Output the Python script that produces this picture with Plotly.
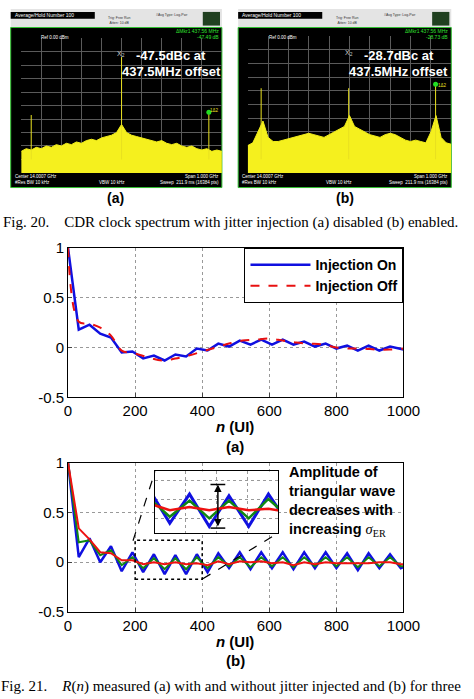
import plotly.graph_objects as go

W, H = 474, 699

def px(x):
    return x / W

def py(y):
    return 1 - y / H

# ---- spectrum data (dB, x in % of span) ----
spec_x = [i * 2.5 for i in range(41)]
left_env = [-84, -82, -83, -81, -82, -80, -81, -79, -80, -78, -79, -77, -78, -76, -75, -76, -74, -73, -72, -70,
            -64, -70, -72, -73, -74, -75, -76, -77, -76, -78, -79, -78, -80, -81, -80, -82, -83, -82, -84, -83, -84]
right_env = [-80, -78, -70, -62, -74, -77, -77, -76, -75, -74, -73, -72, -71, -72, -73, -74, -72, -70, -68, -66,
             -58, -66, -68, -70, -72, -73, -74, -72, -71, -72, -74, -76, -77, -76, -77, -78, -70, -58, -74, -78, -79]
left_spike_x = [5, 50, 93.5]
left_spike_top = [-57, -14, -55]
right_spike_x = [6.6, 49.6, 92.3]
right_spike_top = [-38, -38, -35]

# ---- R(n) data ----
n_a = [0, 32, 64, 96, 128, 160, 192, 224, 256, 288, 320, 352, 384, 416, 448, 480, 512, 544, 576, 608,
       640, 672, 704, 736, 768, 800, 832, 864, 896, 928, 960, 992, 1000]
on_a = [1, 0.18, 0.23, 0.14, 0.1, -0.05, -0.04, -0.11, -0.08, -0.13, -0.07, -0.09, -0.01, -0.03, 0.04, 0.01,
        0.07, 0.03, 0.08, 0.03, 0.08, 0.03, 0.06, 0.01, 0.04, -0.01, 0.02, -0.03, 0.02, -0.03, 0.01, -0.02, -0.02]
n_off = [0, 32, 64, 96, 128, 160, 200, 240, 280, 320, 360, 400, 440, 480, 520, 560, 600, 640, 680, 720,
         760, 800, 840, 880, 920, 960, 1000]
off_a = [1, 0.26, 0.24, 0.2, 0.12, -0.03, -0.06, -0.1, -0.13, -0.11, -0.08, -0.04, 0.0, 0.04, 0.07, 0.08,
         0.09, 0.07, 0.05, 0.04, 0.03, 0.0, -0.01, -0.01, -0.02, -0.02, -0.01]

blue_b = [1, 0.05, 0.24, 0.0, 0.16, -0.09, 0.1, -0.1, 0.08, -0.12, 0.07, -0.12, 0.08, -0.1, 0.09, -0.06,
          0.1, -0.07, 0.1, -0.06, 0.1, -0.07, 0.1, -0.06, 0.1, -0.06, 0.09, -0.08, 0.09, -0.06, 0.08, -0.06, -0.05]
green_b = [1, 0.2, 0.22, 0.07, 0.12, -0.03, 0.05, -0.06, 0.04, -0.07, 0.04, -0.07, 0.05, -0.06, 0.05, -0.04,
           0.05, -0.05, 0.05, -0.04, 0.05, -0.05, 0.05, -0.04, 0.05, -0.04, 0.05, -0.05, 0.05, -0.04, 0.05, -0.04, -0.04]
red_b = [1, 0.34, 0.23, 0.1, 0.09, 0.02, 0.02, -0.02, 0.0, -0.02, 0.0, -0.02, -0.01, -0.03, 0.01, -0.02,
         0.01, 0.0, 0.01, -0.01, 0.0, -0.03, 0.0, -0.02, 0.0, -0.01, -0.01, -0.01, -0.01, 0.0, 0.0, -0.02, -0.02]

fig = go.Figure()

# spectra
for k, (env, sx, st) in enumerate([(left_env, left_spike_x, left_spike_top),
                                   (right_env, right_spike_x, right_spike_top)]):
    xa, ya = ('x', 'y') if k == 0 else ('x2', 'y2')
    fig.add_trace(go.Scatter(x=spec_x, y=[v + 100 for v in env], mode='lines', fill='tozeroy',
                             line=dict(color='#f2ee1a', width=1), fillcolor='#f5f01e',
                             xaxis=xa, yaxis=ya, showlegend=False, hoverinfo='skip'))
    lx, ly = [], []
    for a, t in zip(sx, st):
        lx += [a, a, None]
        ly += [10, t + 100, None]
    fig.add_trace(go.Scatter(x=lx, y=ly, mode='lines', line=dict(color='#e8e020', width=1),
                             xaxis=xa, yaxis=ya, showlegend=False, hoverinfo='skip'))
    fig.add_trace(go.Scatter(x=[sx[2]], y=[st[2] + 100], mode='markers',
                             marker=dict(color='#22dd22', size=5), xaxis=xa, yaxis=ya,
                             showlegend=False, hoverinfo='skip'))

# plot (a)
fig.add_trace(go.Scatter(x=n_a, y=on_a, mode='lines', name='<b>Injection On</b>',
                         line=dict(color='#1010e0', width=2.5), xaxis='x3', yaxis='y3'))
fig.add_trace(go.Scatter(x=n_off, y=off_a, mode='lines', name='<b>Injection Off</b>', line_shape='spline',
                         line=dict(color='#e81010', width=2, dash='dash'), xaxis='x3', yaxis='y3'))

# plot (b) and inset
for xa, ya, wb in [('x4', 'y4', 2.5), ('x5', 'y5', 3)]:
    fig.add_trace(go.Scatter(x=n_a, y=blue_b, mode='lines', line=dict(color='#1010e0', width=wb),
                             xaxis=xa, yaxis=ya, showlegend=False))
    fig.add_trace(go.Scatter(x=n_a, y=green_b, mode='lines', line=dict(color='#118811', width=wb - 0.5),
                             xaxis=xa, yaxis=ya, showlegend=False))
    fig.add_trace(go.Scatter(x=n_a, y=red_b, mode='lines', line=dict(color='#ee1111', width=wb - 0.5),
                             xaxis=xa, yaxis=ya, showlegend=False))

grid_spec = dict(showgrid=True, gridcolor='#5a5a5a', gridwidth=1, zeroline=False,
                 showticklabels=False, ticks='', fixedrange=True)
tick_font = dict(family='Liberation Sans, Arial', size=15, color='black')
data_ax = dict(showline=True, linecolor='black', linewidth=1, mirror=True, ticks='inside', ticklen=4,
               showgrid=True, gridcolor='#999', griddash='dot', zeroline=False, tickfont=tick_font)

fig.update_layout(
    width=W, height=H, margin=dict(l=0, r=0, t=0, b=0),
    paper_bgcolor='white', plot_bgcolor='white',
    font=dict(family='Liberation Sans, Arial', color='black'),
    xaxis=dict(domain=[px(18), px(228)], range=[0, 100], dtick=10, anchor='y', **grid_spec),
    yaxis=dict(domain=[py(168), py(30)], range=[0, 100], dtick=10, anchor='x', **grid_spec),
    xaxis2=dict(domain=[px(255), px(468)], range=[0, 100], dtick=10, anchor='y2', **grid_spec),
    yaxis2=dict(domain=[py(168), py(28)], range=[0, 100], dtick=10, anchor='x2', **grid_spec),
    xaxis3=dict(domain=[px(67), px(418)], range=[0, 1000], tickvals=[0, 200, 400, 600, 800, 1000],
                anchor='y3', **data_ax),
    yaxis3=dict(domain=[py(398), py(245)], range=[-0.5, 1], tickvals=[-0.5, 0, 0.5, 1],
                ticktext=['-0.5', '0', '0.5', '1'], anchor='x3', **data_ax),
    xaxis4=dict(domain=[px(67), px(418)], range=[0, 1000], tickvals=[0, 200, 400, 600, 800, 1000],
                anchor='y4', **data_ax),
    yaxis4=dict(domain=[py(618), py(465)], range=[-0.5, 1], tickvals=[-0.5, 0, 0.5, 1],
                ticktext=['-0.5', '0', '0.5', '1'], anchor='x4', **data_ax),
    xaxis5=dict(domain=[px(158), px(287)], range=[200, 400], tickvals=[250, 300, 350], anchor='y5',
                showticklabels=False, showline=True, linecolor='black', mirror=True, ticks='',
                showgrid=True, gridcolor='#999', griddash='dot', zeroline=False),
    yaxis5=dict(domain=[py(537), py(474)], range=[-0.16, 0.22], tickvals=[-0.071, 0.047, 0.164],
                anchor='x5', showticklabels=False, showline=True, linecolor='black', mirror=True,
                ticks='', showgrid=True, gridcolor='#999', griddash='dot', zeroline=False),
    legend=dict(x=px(418), y=py(245), xanchor='right', yanchor='top', bgcolor='white',
                bordercolor='black', borderwidth=1, font=dict(size=14, family='Liberation Sans, Arial'),
                tracegroupgap=0, itemwidth=60),
)

shapes = []
anns = []
# spectrum frames
for x0, x1 in [(7, 228), (245, 468)]:
    shapes.append(dict(type='rect', xref='paper', yref='paper', x0=px(x0), x1=px(x1), y0=py(0), y1=py(19),
                       fillcolor='#e4e4e4', line=dict(width=0), layer='below'))
    shapes.append(dict(type='rect', xref='paper', yref='paper', x0=px(x0), x1=px(x1), y0=py(183), y1=py(19),
                       fillcolor='black', line=dict(color='#30c030', width=1), layer='below'))
    shapes.append(dict(type='rect', xref='paper', yref='paper', x0=px(x0), x1=px(x0 + 88), y0=py(10), y1=py(3),
                       fillcolor='black', line=dict(width=0)))
    shapes.append(dict(type='rect', xref='paper', yref='paper', x0=px(x1 - 20), x1=px(x1 - 2), y0=py(17), y1=py(3),
                       fillcolor='#204020', line=dict(width=0)))
    tiny = dict(size=4.5, color='white', family='Liberation Sans, Arial')
    anns += [
        dict(x=px(x0 + 2), y=py(6.5), text='Average/Hold Number 100', font=dict(size=5, color='white'), xanchor='left'),
        dict(x=px(x0 + 100), y=py(12), text='Trig: Free Run<br>Atten: 10 dB', font=dict(size=3.5, color='#333'), xanchor='left'),
        dict(x=px(x0 + 150), y=py(6), text='#Avg Type: Log-Pwr', font=dict(size=3.5, color='#333'), xanchor='left'),
        dict(x=px(x0 + 30), y=py(29), text='Ref 0.00 dBm', font=tiny, xanchor='left'),
        dict(x=px(x1 - 1), y=py(23), text='ΔMkr1 437.56 MHz', font=dict(size=5, color='#30e030'), xanchor='right'),
        dict(x=px(x0 + 2), y=py(172), text='Center 14.0007 GHz', font=tiny, xanchor='left'),
        dict(x=px(x0 + 2), y=py(178), text='#Res BW 10 kHz', font=tiny, xanchor='left'),
        dict(x=px(x0 + 90), y=py(178), text='VBW 10 kHz', font=tiny, xanchor='left'),
        dict(x=px(x1 - 1), y=py(172), text='Span 1.000 GHz', font=tiny, xanchor='right'),
        dict(x=px(x1 - 1), y=py(178), text='Sweep  211.9 ms (16384 pts)', font=tiny, xanchor='right'),
    ]
anns += [
    dict(x=px(227), y=py(29), text='-47.49 dB', font=dict(size=5, color='#30e030'), xanchor='right'),
    dict(x=px(467), y=py(29), text='-28.73 dB', font=dict(size=5, color='#30e030'), xanchor='right'),
    dict(x=px(122), y=py(46), text='X<sub>2</sub>', font=dict(size=7, color='#ccc'), ),
    dict(x=px(361), y=py(45), text='X<sub>2</sub>', font=dict(size=7, color='#ccc')),
    dict(x=px(220), y=py(104), text='1Δ2', font=dict(size=4.5, color='#e8e020')),
    dict(x=px(459), y=py(78), text='1Δ2', font=dict(size=4.5, color='#e8e020')),
    dict(x=px(175), y=py(48), text='<b>-47.5dBc at</b>', font=dict(size=13, color='white')),
    dict(x=px(175), y=py(64), text='<b>437.5MHz offset</b>', font=dict(size=13, color='white')),
    dict(x=px(413), y=py(48), text='<b>-28.7dBc at</b>', font=dict(size=13, color='white')),
    dict(x=px(413), y=py(64), text='<b>437.5MHz offset</b>', font=dict(size=13, color='white')),
    dict(x=px(117), y=py(194), text='<b>(a)</b>', font=dict(size=14)),
    dict(x=px(357), y=py(194), text='<b>(b)</b>', font=dict(size=14)),
    dict(x=px(237), y=py(219), font=dict(size=15, family='Liberation Serif, Times New Roman'),
         text='Fig. 20.    CDR clock spectrum with jitter injection (a) disabled (b) enabled.'),
    dict(x=px(242), y=py(428), text='<b><i>n</i> (UI)</b>', font=dict(size=15)),
    dict(x=px(242), y=py(448), text='<b>(a)</b>', font=dict(size=15)),
    dict(x=px(242), y=py(648), text='<b><i>n</i> (UI)</b>', font=dict(size=15)),
    dict(x=px(242), y=py(668), text='<b>(b)</b>', font=dict(size=15)),
    dict(x=px(296), y=py(505), xanchor='left', align='left', font=dict(size=14.5),
         text='<b>Amplitude of<br>triangular wave<br>decreases with<br>increasing</b> '
              '<span style="font-family:Liberation Serif"><i>σ</i><sub>ER</sub></span>'),
    dict(x=px(237), y=py(694), font=dict(size=15, family='Liberation Serif, Times New Roman'),
         text='Fig. 21.    <i>R</i>(<i>n</i>) measured (a) with and without jitter injected and (b) for three'),
]
# zoom box and connectors
shapes.append(dict(type='rect', xref='x4', yref='y4', x0=200, x1=400, y0=-0.17, y1=0.22,
                   line=dict(color='black', width=1.5, dash='dot')))
shapes.append(dict(type='line', xref='paper', yref='paper', x0=px(135), y0=py(545), x1=px(158), y1=py(474),
                   line=dict(color='black', width=1.2, dash='dash')))
shapes.append(dict(type='line', xref='paper', yref='paper', x0=px(208), y0=py(584), x1=px(287), y1=py(537),
                   line=dict(color='black', width=1.2, dash='dash')))
# double arrow in inset
for yv in [0.14, -0.13]:
    shapes.append(dict(type='line', xref='x5', yref='y5', x0=290, x1=314, y0=yv, y1=yv,
                       line=dict(color='black', width=1.5)))
anns.append(dict(x=302, y=0.14, ax=302, ay=-0.13, xref='x5', yref='y5', axref='x5', ayref='y5',
                 showarrow=True, arrowhead=2, arrowside='end+start', arrowwidth=1.5, arrowcolor='black', text=''))
for a in anns:
    a.setdefault('xref', 'paper')
    a.setdefault('yref', 'paper')
    a.setdefault('showarrow', False)
    a.setdefault('xanchor', 'center')
    a.setdefault('yanchor', 'middle')
fig.update_layout(shapes=shapes, annotations=anns)

fig.write_html("out.html", config={'displayModeBar': False},
               post_script="document.body.style.margin='0';"
                           "document.body.style.overflow='hidden';"
                           "document.documentElement.style.overflow='hidden';")
